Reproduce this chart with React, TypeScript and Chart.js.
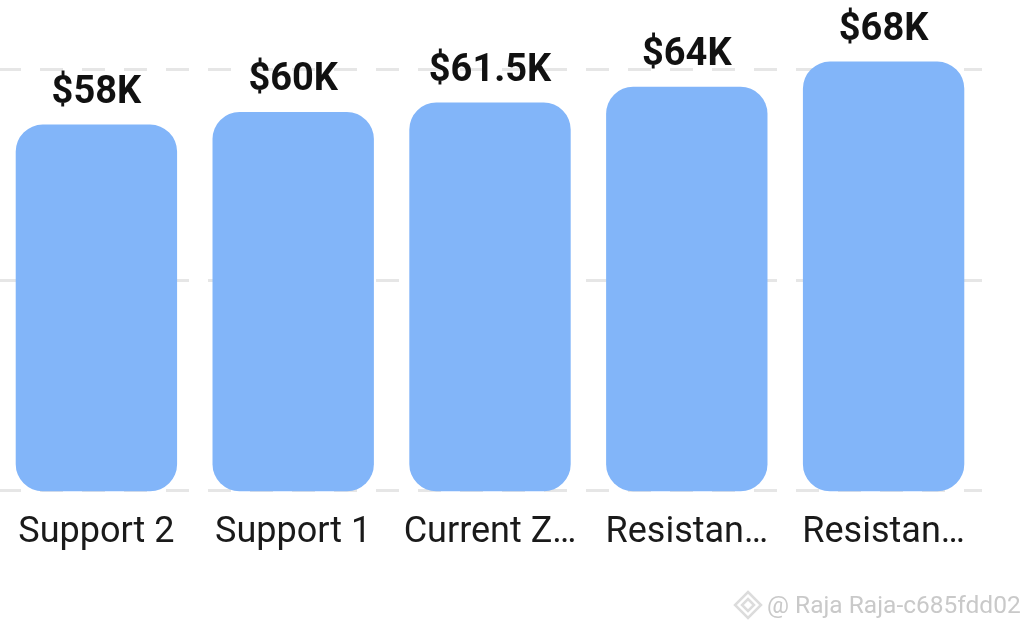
import React, { useEffect, useRef } from "react";
import { Chart, registerables } from "chart.js";

Chart.register(...registerables);

const categories = ["Support 2", "Support 1", "Current Z…", "Resistan…", "Resistan…"];
const prices = [58, 60, 61.5, 64, 68];
const valueLabels = ["$58K", "$60K", "$61.5K", "$64K", "$68K"];
const gridTicks = [0, 33.33, 66.67];
const axisMax = 77.78;
const watermark = "@ Raja Raja-c685fdd02";

const valueLabelPlugin = {
  id: "valueLabels",
  afterDatasetsDraw(chart: any) {
    const { ctx } = chart;
    const meta = chart.getDatasetMeta(0);
    ctx.save();
    ctx.font = "700 38px Roboto";
    ctx.fillStyle = "#111111";
    ctx.textAlign = "center";
    ctx.textBaseline = "alphabetic";
    meta.data.forEach((bar: any, i: number) => {
      ctx.fillText(valueLabels[i], bar.x, bar.y - 22);
    });
    ctx.restore();
  },
};

export default function App() {
  const ref = useRef<HTMLCanvasElement>(null);

  useEffect(() => {
    document.body.style.margin = "0";
    document.body.style.overflow = "hidden";
    const chart = new Chart(ref.current!, {
      type: "bar",
      data: {
        labels: categories,
        datasets: [
          {
            data: prices,
            base: -0.2,
            clip: false,
            backgroundColor: "#82b5f9",
            borderRadius: 27,
            borderSkipped: false,
            categoryPercentage: 1,
            barPercentage: 0.82,
          },
        ],
      },
      options: {
        animation: false,
        responsive: false,
        layout: { padding: { top: 0, left: 0, right: 46, bottom: 0 } },
        plugins: { legend: { display: false }, tooltip: { enabled: false } },
        scales: {
          x: {
            grid: { display: false },
            border: { display: false },
            afterFit: (s: any) => {
              s.height = 139;
            },
            ticks: {
              autoSkip: false,
              maxRotation: 0,
              minRotation: 0,
              padding: 13,
              color: "#1a1a1a",
              font: { family: "Roboto", size: 36 },
            },
          },
          y: {
            min: 0,
            max: axisMax,
            afterFit: (s: any) => {
              s.width = 0;
            },
            afterBuildTicks: (s: any) => {
              s.ticks = gridTicks.map((value) => ({ value }));
            },
            ticks: { display: false },
            border: { display: false, dash: [23, 19] },
            grid: { color: "#e6e6e6", lineWidth: 3, drawTicks: false },
          },
        },
      },
      plugins: [valueLabelPlugin],
    });
    return () => chart.destroy();
  }, []);

  return (
    <div style={{ position: "relative", width: 1028, height: 629, overflow: "hidden", background: "#fff" }}>
      <canvas ref={ref} width={1030} height={629} style={{ position: "absolute", left: -2, top: 0, width: 1030, height: 629 }} />
      <svg width={30} height={30} viewBox="0 0 30 30" style={{ position: "absolute", left: 733, top: 590 }}>
        <path d="M15 2 L28 15 L15 28 L2 15 Z M15 9 L21 15 L15 21 L9 15 Z" fill="none" stroke="#dcdcdc" strokeWidth={2.5} />
      </svg>
      <div style={{ position: "absolute", left: 767, top: 590, font: "24.5px Roboto", color: "#c9c9c9", whiteSpace: "nowrap" }}>{watermark}</div>
    </div>
  );
}
